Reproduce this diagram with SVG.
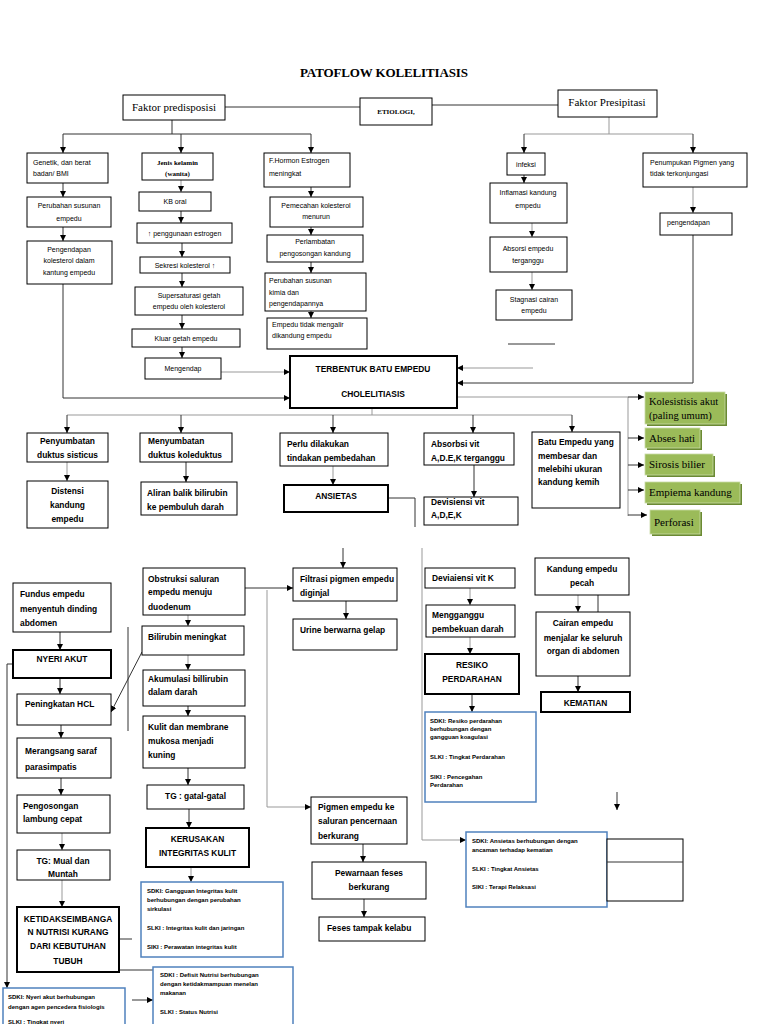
<svg xmlns="http://www.w3.org/2000/svg" width="768" height="1024" viewBox="0 0 768 1024">
<style>
.b{fill:#fff;stroke:#000;stroke-width:1}
.bt{fill:#fff;stroke:#000;stroke-width:2}
.bb{fill:#fff;stroke:#4f81bd;stroke-width:1.5}
.gs{fill:#6b8a33}
.g{fill:#9bbb59;stroke:#c9dba6;stroke-width:0.8}
.c{fill:none;stroke:#333;stroke-width:1}
.cg{fill:none;stroke:#999;stroke-width:1}
.s{font-family:"Liberation Sans",Arial,sans-serif;font-size:7px;fill:#000}
.m{font-family:"Liberation Sans",Arial,sans-serif;font-size:8.4px;font-weight:bold;fill:#000}
.bl{font-family:"Liberation Sans",Arial,sans-serif;font-size:6px;font-weight:bold;fill:#000}
.sv{font-family:"Liberation Serif","Times New Roman",serif;font-size:11px;fill:#000}
.svg2{font-family:"Liberation Serif","Times New Roman",serif;font-size:10.5px;fill:#000}
.svb{font-family:"Liberation Serif","Times New Roman",serif;font-size:7px;font-weight:bold;fill:#000}
.mid{text-anchor:middle}
</style>
<defs>
<marker id="ar" markerUnits="userSpaceOnUse" markerWidth="6" markerHeight="6" refX="6" refY="3" orient="auto"><path d="M0,0 L6,3 L0,6 z" fill="#000"/></marker>
</defs>

<text x="384" y="77" text-anchor="middle" font-family="Liberation Serif,'Times New Roman',serif" font-size="13" font-weight="bold" textLength="168">PATOFLOW KOLELITIASIS</text>

<g id="connectors">
<path class="c" d="M225,107 H360"/>
<path class="c" d="M432,105 H558"/>
<path class="c" d="M172,120 V134 M63,134 H311"/>
<path class="c" marker-end="url(#ar)" d="M63,134 V153"/>
<path class="c" marker-end="url(#ar)" d="M181,134 V153"/>
<path class="c" marker-end="url(#ar)" d="M311,134 V153"/>
<path class="cg" d="M609,117 V134 M524,134 H693"/>
<path class="c" marker-end="url(#ar)" d="M524,134 V153"/>
<path class="c" marker-end="url(#ar)" d="M693,134 V153"/>
<path class="c" marker-end="url(#ar)" d="M63,183 V197"/>
<path class="c" marker-end="url(#ar)" d="M63,227 V241"/>
<path class="c" marker-end="url(#ar)" d="M63,284 V398 H290"/>
<path class="cg" marker-end="url(#ar)" d="M181,180 V192"/>
<path class="c" marker-end="url(#ar)" d="M181,211 V223"/>
<path class="c" marker-end="url(#ar)" d="M182,243 V257"/>
<path class="c" marker-end="url(#ar)" d="M182,273 V287"/>
<path class="c" marker-end="url(#ar)" d="M182,315 V329"/>
<path class="c" marker-end="url(#ar)" d="M182,347 V358"/>
<path class="cg" marker-end="url(#ar)" d="M221,372 H290"/>
<path class="c" marker-end="url(#ar)" d="M311,187 V197"/>
<path class="c" marker-end="url(#ar)" d="M311,227 V235"/>
<path class="c" marker-end="url(#ar)" d="M311,262 V273"/>
<path class="c" marker-end="url(#ar)" d="M311,311 V318"/>
<path class="c" marker-end="url(#ar)" d="M524,175 V183"/>
<path class="cg" marker-end="url(#ar)" d="M532,223 V237"/>
<path class="cg" marker-end="url(#ar)" d="M532,272 V290"/>
<path class="c" d="M508,344 H555"/>
<path class="cg" marker-end="url(#ar)" d="M693,187 V213"/>
<path class="c" marker-end="url(#ar)" d="M693,235 V383 H457"/>
<path class="cg" marker-end="url(#ar)" d="M533,368 H457"/>
<path class="cg" d="M372,408 V415 M67,415 H572"/>
<path class="c" marker-end="url(#ar)" d="M67,415 V433"/>
<path class="c" marker-end="url(#ar)" d="M181,415 V433"/>
<path class="c" marker-end="url(#ar)" d="M333,415 V433"/>
<path class="c" marker-end="url(#ar)" d="M473,415 V433"/>
<path class="c" marker-end="url(#ar)" d="M572,415 V432"/>
<path class="cg" d="M457,397 H628 V516"/>
<path class="c" marker-end="url(#ar)" d="M628,397 H644"/>
<path class="c" marker-end="url(#ar)" d="M628,438 H644"/>
<path class="c" marker-end="url(#ar)" d="M628,465 H644"/>
<path class="c" marker-end="url(#ar)" d="M628,490 H644"/>
<path class="c" marker-end="url(#ar)" d="M628,515 H647"/>
<path class="cg" marker-end="url(#ar)" d="M67,462 V481"/>
<path class="c" marker-end="url(#ar)" d="M186,462 V482"/>
<path class="cg" marker-end="url(#ar)" d="M333,466 V485"/>
<path class="c" d="M388,498 H415 V527"/>
<path class="c" marker-end="url(#ar)" d="M474,465 V497"/>
<path class="c" marker-end="url(#ar)" d="M60,632 V650"/>
<path class="c" marker-end="url(#ar)" d="M13,664 H7 V988"/>
<path class="c" marker-end="url(#ar)" d="M60,678 V694"/>
<path class="c" marker-end="url(#ar)" d="M61,725 V738"/>
<path class="c" marker-end="url(#ar)" d="M61,778 V795"/>
<path class="cg" marker-end="url(#ar)" d="M62,833 V850"/>
<path class="cg" marker-end="url(#ar)" d="M62,880 V907"/>
<path class="c" d="M119,939 H132"/>
<path class="c" d="M102,970 H153"/>
<path class="c" marker-end="url(#ar)" d="M132,1000 H153"/>
<path class="c" marker-end="url(#ar)" d="M245,588 H293"/>
<path class="cg" marker-end="url(#ar)" d="M267,590 V807 H311"/>
<path class="cg" marker-end="url(#ar)" d="M188,615 V626"/>
<path class="c" d="M128,627 V731"/>
<path class="c" marker-end="url(#ar)" d="M142,652 L111,712"/>
<path class="cg" marker-end="url(#ar)" d="M188,655 V670"/>
<path class="c" marker-end="url(#ar)" d="M188,706 V716"/>
<path class="c" marker-end="url(#ar)" d="M188,768 V785"/>
<path class="c" marker-end="url(#ar)" d="M189,809 V828"/>
<path class="cg" marker-end="url(#ar)" d="M191,867 V882"/>
<path class="c" marker-end="url(#ar)" d="M343,548 V568"/>
<path class="c" marker-end="url(#ar)" d="M346,601 V619"/>
<path class="c" marker-end="url(#ar)" d="M363,844 V862"/>
<path class="c" marker-end="url(#ar)" d="M364,899 V917"/>
<path class="cg" marker-end="url(#ar)" d="M422,548 V840 H466"/>
<path class="cg" marker-end="url(#ar)" d="M470,588 V605"/>
<path class="cg" marker-end="url(#ar)" d="M470,637 V654"/>
<path class="c" marker-end="url(#ar)" d="M472,694 V712"/>
<path class="cg" marker-end="url(#ar)" d="M578,595 V612"/>
<path class="c" d="M598,595 V612"/>
<path class="c" marker-end="url(#ar)" d="M578,676 V692"/>
<path class="c" marker-end="url(#ar)" d="M617,792 V810"/>
</g>

<g id="faktor-predisposisi"><rect class="b" x="123" y="95" width="102" height="25"/><text class="sv mid" x="174" y="111">Faktor predisposisi</text></g>
<g id="etiologi"><rect class="b" x="360" y="98" width="72" height="27"/><text class="svb mid" x="396" y="114">ETIOLOGI,</text></g>
<g id="faktor-presipitasi"><rect class="b" x="558" y="90" width="99" height="27"/><text class="sv mid" x="607" y="106">Faktor Presipitasi</text></g>

<g id="genetik"><rect class="b" x="27" y="153" width="81" height="30"/><text class="s" x="33" y="164.5">Genetik, dan berat</text><text class="s" x="33" y="175.5">badan/ BMI</text></g>
<g id="perubahan-susunan"><rect class="b" x="27" y="197" width="84" height="30"/><text class="s mid" x="69" y="207.5">Perubahan susunan</text><text class="s mid" x="69" y="220.5">empedu</text></g>
<g id="pengendapan-kolesterol"><rect class="b" x="27" y="241" width="85" height="43"/><text class="s mid" x="69" y="251.5">Pengendapan</text><text class="s mid" x="69" y="263">kolesterol dalam</text><text class="s mid" x="69" y="274.5">kantung empedu</text></g>

<g id="jenis-kelamin"><rect class="b" x="142" y="153" width="71" height="27"/><text class="svb mid" x="177.5" y="164.5">Jenis kelamin</text><text class="svb mid" x="177.5" y="175.5">(wanita)</text></g>
<g id="kb-oral"><rect class="b" x="139" y="192" width="72" height="19"/><text class="s mid" x="175" y="203.5">KB oral</text></g>
<g id="penggunaan-estrogen"><rect class="b" x="137" y="223" width="95" height="20"/><text class="s mid" x="184.5" y="235.5">↑ penggunaan estrogen</text></g>
<g id="sekresi-kolesterol"><rect class="b" x="140" y="257" width="90" height="16"/><text class="s mid" x="185" y="267.5">Sekresi kolesterol ↑</text></g>
<g id="supersaturasi"><rect class="b" x="135" y="287" width="108" height="28"/><text class="s mid" x="189" y="297.5">Supersaturasi getah</text><text class="s mid" x="189" y="309">empedu oleh kolesterol</text></g>
<g id="kluar-getah"><rect class="b" x="132" y="329" width="108" height="18"/><text class="s mid" x="186" y="340.5">Kluar getah empedu</text></g>
<g id="mengendap"><rect class="b" x="145" y="358" width="76" height="21"/><text class="s mid" x="183" y="371">Mengendap</text></g>

<g id="hormon-estrogen"><rect class="b" x="264" y="153" width="86" height="34"/><text class="s" x="269" y="162.5">F.Hormon Estrogen</text><text class="s" x="269" y="175.5">meningkat</text></g>
<g id="pemecahan-kolesterol"><rect class="b" x="270" y="197" width="93" height="30"/><text class="s mid" x="316" y="207.5">Pemecahan  kolesterol</text><text class="s mid" x="316" y="219">menurun</text></g>
<g id="perlambatan"><rect class="b" x="267" y="235" width="96" height="27"/><text class="s mid" x="315" y="243.5">Perlambatan</text><text class="s mid" x="315" y="255.5">pengosongan kandung</text></g>
<g id="perubahan-kimia"><rect class="b" x="265" y="273" width="101" height="38"/><text class="s" x="269" y="283">Perubahan susunan</text><text class="s" x="269" y="294.5">kimia dan</text><text class="s" x="269" y="306">pengendapannya</text></g>
<g id="empedu-tidak-mengalir"><rect class="b" x="267" y="318" width="100" height="31"/><text class="s" x="272" y="327">Empedu tidak mengalir</text><text class="s" x="272" y="338">dikandung empedu</text></g>

<g id="infeksi"><rect class="b" x="507" y="153" width="38" height="22"/><text class="s mid" x="526" y="167">infeksi</text></g>
<g id="inflamasi"><rect class="b" x="490" y="183" width="77" height="40"/><text class="s mid" x="528" y="195">Inflamasi kandung</text><text class="s mid" x="528" y="208">empedu</text></g>
<g id="absorsi-empedu"><rect class="b" x="490" y="237" width="77" height="35"/><text class="s mid" x="528" y="250.5">Absorsi empedu</text><text class="s mid" x="528" y="263">terganggu</text></g>
<g id="stagnasi"><rect class="b" x="496" y="290" width="76" height="30"/><text class="s mid" x="534" y="301.5">Stagnasi cairan</text><text class="s mid" x="534" y="313">empedu</text></g>
<g id="penumpukan-pigmen"><rect class="b" x="643" y="153" width="104" height="34"/><text class="s" x="650" y="165">Penumpukan Pigmen yang</text><text class="s" x="650" y="176">tidak terkonjungasi</text></g>
<g id="pengendapan"><rect class="b" x="660" y="213" width="72" height="22"/><text class="s" x="667" y="224.5">pengendapan</text></g>

<g id="terbentuk-batu"><rect class="bt" x="290" y="356" width="167" height="52"/><text class="m mid" x="373" y="371.5">TERBENTUK BATU EMPEDU</text><text class="m mid" x="373" y="396.5">CHOLELITIASIS</text></g>

<g id="kolesistisis"><rect class="gs" x="647" y="394" width="80" height="32"/><rect class="g" x="645" y="392" width="80" height="32"/><text class="svg2" x="649" y="405">Kolesistisis akut</text><text class="svg2" x="649" y="419">(paling umum)</text></g>
<g id="abses-hati"><rect class="gs" x="647" y="430" width="55" height="20"/><rect class="g" x="645" y="428" width="55" height="20"/><text class="sv" x="649" y="441.5">Abses hati</text></g>
<g id="sirosis"><rect class="gs" x="647" y="456" width="68" height="21"/><rect class="g" x="645" y="454" width="68" height="21"/><text class="sv" x="649" y="468">Sirosis bilier</text></g>
<g id="empiema"><rect class="gs" x="647" y="484" width="95" height="21"/><rect class="g" x="645" y="482" width="95" height="21"/><text class="sv" x="649" y="496">Empiema kandung</text></g>
<g id="perforasi"><rect class="gs" x="652" y="512" width="50" height="24"/><rect class="g" x="650" y="510" width="50" height="24"/><text class="sv" x="654" y="526">Perforasi</text></g>

<g id="penyumbatan-sisticus"><rect class="b" x="27" y="433" width="81" height="29"/><text class="m mid" x="67.5" y="444">Penyumbatan</text><text class="m mid" x="67.5" y="458">duktus sisticus</text></g>
<g id="distensi"><rect class="b" x="27" y="481" width="81" height="47"/><text class="m mid" x="67.5" y="493.5">Distensi</text><text class="m mid" x="67.5" y="507.5">kandung</text><text class="m mid" x="67.5" y="521.5">empedu</text></g>
<g id="menyumbatan-koleduktus"><rect class="b" x="140" y="433" width="92" height="29"/><text class="m" x="148" y="444">Menyumbatan</text><text class="m" x="148" y="458">duktus koleduktus</text></g>
<g id="aliran-balik"><rect class="b" x="141" y="482" width="96" height="33"/><text class="m" x="147" y="496">Aliran balik bilirubin</text><text class="m" x="147" y="509.5">ke pembuluh darah</text></g>
<g id="perlu-pembedahan"><rect class="b" x="280" y="433" width="108" height="33"/><text class="m" x="287" y="446.5">Perlu dilakukan</text><text class="m" x="287" y="460.5">tindakan pembedahan</text></g>
<g id="ansietas"><rect class="bt" x="284" y="485" width="104" height="27"/><text class="m mid" x="336" y="499">ANSIETAS</text></g>
<g id="absorbsi-vit"><rect class="b" x="424" y="433" width="90" height="32"/><text class="m" x="431" y="446.5">Absorbsi vit</text><text class="m" x="431" y="460.5">A,D.E,K terganggu</text></g>
<g id="devisiensi-vit"><rect class="b" x="424" y="497" width="94" height="28"/><text class="m" x="431" y="505">Devisiensi vit</text><text class="m" x="431" y="518">A,D,E,K</text></g>
<g id="batu-membesar"><rect class="b" x="532" y="432" width="88" height="76"/><text class="m" x="538" y="445">Batu Empedu yang</text><text class="m" x="538" y="458.5">membesar dan</text><text class="m" x="538" y="471.5">melebihi ukuran</text><text class="m" x="538" y="484.5">kandung kemih</text></g>

<g id="fundus"><rect class="b" x="13" y="583" width="98" height="49"/><text class="m" x="20" y="596.5">Fundus empedu</text><text class="m" x="20" y="611.5">menyentuh dinding</text><text class="m" x="20" y="625.5">abdomen</text></g>
<g id="nyeri-akut"><rect class="bt" x="13" y="650" width="98" height="28"/><text class="m mid" x="62" y="662">NYERI AKUT</text></g>
<g id="peningkatan-hcl"><rect class="b" x="17" y="694" width="94" height="31"/><text class="m" x="25" y="706.5">Peningkatan HCL</text></g>
<g id="merangsang"><rect class="b" x="17" y="738" width="94" height="40"/><text class="m" x="25" y="754">Merangsang saraf</text><text class="m" x="25" y="770">parasimpatis</text></g>
<g id="pengosongan"><rect class="b" x="17" y="795" width="93" height="38"/><text class="m" x="23" y="808.5">Pengosongan</text><text class="m" x="23" y="821.5">lambung cepat</text></g>
<g id="mual-muntah"><rect class="b" x="17" y="850" width="93" height="30"/><text class="m mid" x="63" y="863.5">TG: Mual dan</text><text class="m mid" x="63" y="876.5">Muntah</text></g>
<g id="ketidakseimbangan"><rect class="bt" x="17" y="907" width="102" height="65"/><text class="m mid" x="68" y="921.5">KETIDAKSEIMBANGA</text><text class="m mid" x="68" y="935">N NUTRISI KURANG</text><text class="m mid" x="68" y="949">DARI KEBUTUHAN</text><text class="m mid" x="68" y="963.5">TUBUH</text></g>
<g id="sdki-nyeri"><rect class="bb" x="3" y="988" width="122" height="50"/><text class="bl" x="8" y="999">SDKI: Nyeri akut berhubungan</text><text class="bl" x="8" y="1008.5">dengan agen pencedera fisiologis</text><text class="bl" x="8" y="1024">SLKI : Tingkat nyeri</text></g>
<g id="sdki-defisit"><rect class="bb" x="153" y="967" width="140" height="70"/><text class="bl" x="160" y="976.5">SDKI : Defisit Nutrisi berhubungan</text><text class="bl" x="160" y="985.5">dengan ketidakmampuan menelan</text><text class="bl" x="160" y="995">makanan</text><text class="bl" x="160" y="1014">SLKI : Status Nutrisi</text></g>

<g id="obstruksi"><rect class="b" x="143" y="568" width="102" height="47"/><text class="m" x="148" y="581.5">Obstruksi saluran</text><text class="m" x="148" y="595">empedu menuju</text><text class="m" x="148" y="609.5">duodenum</text></g>
<g id="bilirubin-meningkat"><rect class="b" x="142" y="626" width="102" height="29"/><text class="m" x="148" y="640">Bilirubin meningkat</text></g>
<g id="akumulasi"><rect class="b" x="143" y="670" width="102" height="36"/><text class="m" x="148" y="681.5">Akumulasi billirubin</text><text class="m" x="148" y="695">dalam darah</text></g>
<g id="kulit-kuning"><rect class="b" x="143" y="716" width="102" height="52"/><text class="m" x="148" y="729.5">Kulit dan membrane</text><text class="m" x="148" y="743.5">mukosa menjadi</text><text class="m" x="148" y="757.5">kuning</text></g>
<g id="gatal"><rect class="b" x="147" y="785" width="97" height="24"/><text class="m mid" x="195.5" y="798.5">TG : gatal-gatal</text></g>
<g id="kerusakan-kulit"><rect class="bt" x="146" y="828" width="103" height="39"/><text class="m mid" x="197.5" y="841.5">KERUSAKAN</text><text class="m mid" x="197.5" y="856">INTEGRITAS KULIT</text></g>
<g id="sdki-integritas"><rect class="bb" x="141" y="882" width="142" height="75"/><text class="bl" x="147" y="892.5">SDKI: Gangguan Integritas kulit</text><text class="bl" x="147" y="901.5">berhubungan dengan perubahan</text><text class="bl" x="147" y="910.5">sirkulasi</text><text class="bl" x="147" y="930">SLKI : Integritas kulit dan jaringan</text><text class="bl" x="147" y="948.5">SIKI : Perawatan integritas kulit</text></g>

<g id="filtrasi"><rect class="b" x="293" y="568" width="104" height="33"/><text class="m" x="300" y="581.5">Filtrasi pigmen empedu</text><text class="m" x="300" y="596">diginjal</text></g>
<g id="urine"><rect class="b" x="293" y="619" width="104" height="31"/><text class="m" x="300" y="632.5">Urine berwarna gelap</text></g>
<g id="pigmen-berkurang"><rect class="b" x="311" y="797" width="96" height="47"/><text class="m" x="318" y="810">Pigmen empedu ke</text><text class="m" x="318" y="824">saluran pencernaan</text><text class="m" x="318" y="838.5">berkurang</text></g>
<g id="pewarnaan"><rect class="b" x="312" y="862" width="114" height="37"/><text class="m mid" x="369" y="876">Pewarnaan feses</text><text class="m mid" x="369" y="890">berkurang</text></g>
<g id="feses-kelabu"><rect class="b" x="319" y="917" width="106" height="24"/><text class="m" x="327" y="930.5">Feses tampak kelabu</text></g>

<g id="deviaiensi-k"><rect class="b" x="425" y="568" width="90" height="20"/><text class="m" x="432" y="580.5">Deviaiensi vit K</text></g>
<g id="mengganggu"><rect class="b" x="426" y="605" width="89" height="32"/><text class="m" x="432" y="617.5">Mengganggu</text><text class="m" x="432" y="631.5">pembekuan darah</text></g>
<g id="resiko-perdarahan"><rect class="bt" x="425" y="654" width="94" height="40"/><text class="m mid" x="472" y="667.5">RESIKO</text><text class="m mid" x="472" y="681.5">PERDARAHAN</text></g>
<g id="sdki-perdarahan"><rect class="bb" x="425" y="712" width="111" height="90"/><text class="bl" x="430" y="722.5">SDKI: Resiko perdarahan</text><text class="bl" x="430" y="730.5">berhubungan dengan</text><text class="bl" x="430" y="739">gangguan koagulasi</text><text class="bl" x="430" y="759">SLKI : Tingkat Perdarahan</text><text class="bl" x="430" y="778.5">SIKI : Pencegahan</text><text class="bl" x="430" y="787">Perdarahan</text></g>
<g id="kandung-pecah"><rect class="b" x="535" y="558" width="94" height="37"/><text class="m mid" x="582" y="571.5">Kandung empedu</text><text class="m mid" x="582" y="586">pecah</text></g>
<g id="cairan-empedu"><rect class="b" x="536" y="612" width="94" height="64"/><text class="m mid" x="583" y="626">Cairan empedu</text><text class="m mid" x="583" y="641">menjalar ke seluruh</text><text class="m mid" x="583" y="654">organ di abdomen</text></g>
<g id="kematian"><rect class="bt" x="541" y="692" width="89" height="20"/><text class="m mid" x="585.5" y="705.5">KEMATIAN</text></g>
<g id="sdki-ansietas"><rect class="bb" x="466" y="832" width="141" height="75"/><text class="bl" x="472" y="842.5">SDKI: Ansietas berhubungan dengan</text><text class="bl" x="472" y="851.5">ancaman terhadap kematian</text><text class="bl" x="472" y="870.5">SLKI : Tingkat Ansietas</text><text class="bl" x="472" y="889">SIKI : Terapi Relaksasi</text></g>
<g id="empty-table"><rect class="b" x="607" y="839" width="76" height="62"/><path class="c" d="M607,862 H683"/></g>
</svg>
